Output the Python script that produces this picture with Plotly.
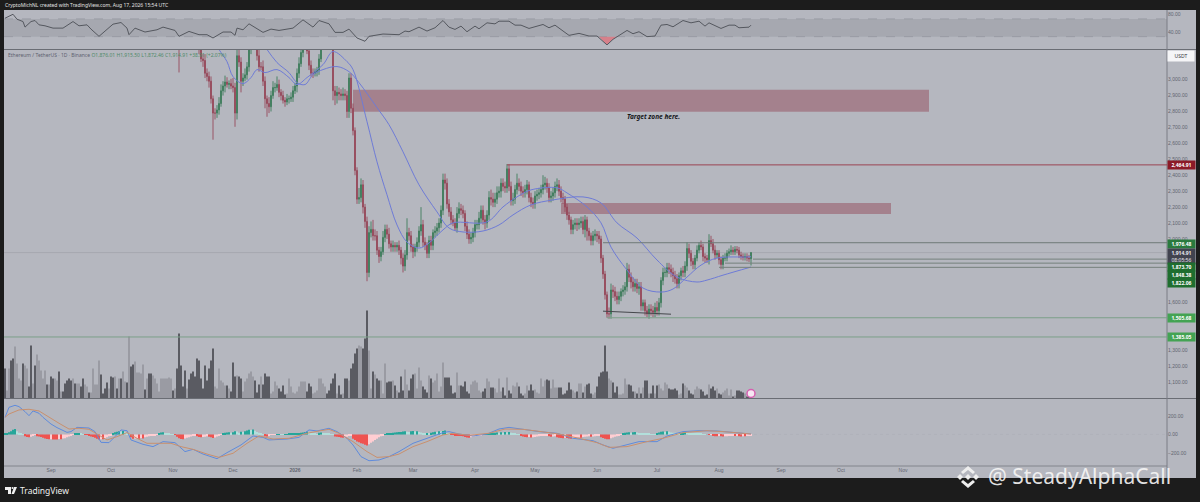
#!/usr/bin/env python
import pandas as pd
import plotly.graph_objects as go

W, H = 1200, 502

# daily closes from 2025-11-03 to 2026-08-17 (earlier candles sit above the visible range)
closes = [3600, 3550, 3500, 3480, 3470, 3500, 3450, 3420, 3380, 3350, 3230, 3200, 3130, 3120, 3040, 3020, 2990, 2880, 2790, 2790,
          2810, 2850, 2930, 2960, 2985, 2970, 2975, 2960, 2950, 2790,
          3150, 3110, 2990, 3010, 3030, 3080, 3200, 3250, 3260, 3240,
          3150, 3080, 3080, 2990, 2880, 2850, 2830, 2900, 2950, 2950,
          2970, 2920, 2900, 2870, 2860, 2880, 2880, 2890, 2930, 2960,
          3040, 3100, 3170, 3220, 3250, 3180, 3090, 3040, 3040, 3050,
          3060, 3130, 3230, 3350, 3400, 3360, 3350, 3250, 2930, 2900,
          2920, 2910, 2900, 2910, 2900, 2800, 3010, 2820, 2680, 2430,
          2250, 2260, 2340, 2200, 2110, 1790, 2040, 2060, 2020, 2020,
          1930, 1890, 1920, 2010, 2060, 2030, 1970, 1950, 1960, 1950,
          1960, 1930, 1880, 1830, 1900, 2040, 2020, 1950, 1920, 1950,
          1980, 2050, 2090, 1980, 1960, 1910, 1990, 1960, 2040, 2050,
          2070, 2100, 2180, 2370, 2350, 2220, 2170, 2120, 2100, 2070,
          2160, 2190, 2180, 2160, 2080, 2030, 2000, 2010, 2040, 2090,
          2090, 2130, 2180, 2120, 2100, 2150, 2260, 2250, 2230, 2250,
          2290, 2300, 2350, 2330, 2320, 2440, 2330, 2240, 2250, 2310,
          2350, 2330, 2300, 2290, 2310, 2340, 2260, 2230, 2220, 2270,
          2280, 2290, 2310, 2340, 2350, 2320, 2260, 2270, 2290, 2330,
          2340, 2300, 2260, 2250, 2200, 2150, 2120, 2060, 2090, 2100,
          2090, 2100, 2110, 2060, 2120, 2050, 2020, 1990, 2020, 2030,
          2020, 2000, 1880, 1780, 1650, 1530, 1530, 1680, 1670, 1640,
          1620, 1640, 1670, 1680, 1700, 1810, 1760, 1730, 1700, 1720,
          1690, 1700, 1580, 1600, 1550, 1530, 1560, 1550, 1540, 1570,
          1550, 1600, 1740, 1790, 1790, 1820, 1810, 1790, 1770, 1750,
          1720, 1770, 1800, 1790, 1830, 1940, 1910, 1860, 1840, 1880,
          1930, 1960, 1950, 1890, 1880, 1870, 1990, 1970, 1930, 1900,
          1910, 1870, 1840, 1880, 1880, 1910, 1920, 1930, 1920, 1935,
          1930, 1900, 1890, 1885, 1890, 1880, 1876.01, 1914.91]
upper_wick = [40, 30, 50, 20, 30, 40, 20, 30, 40, 30, 30, 40, 30, 30, 40, 30, 30, 30, 20, 30,
              30, 40, 40, 30, 40, 30, 20, 30, 50, 30,
              60, 40, 30, 30, 40, 30, 40, 50, 30, 40,
              30, 40, 30, 40, 30, 20, 40, 30, 40, 30,
              50, 30, 20, 30, 20, 30, 20, 30, 30, 20,
              30, 40, 30, 40, 30, 30, 20, 30, 30, 20,
              20, 30, 30, 40, 30, 30, 20, 40, 40, 30,
              40, 30, 30, 40, 30, 30, 30, 30, 30, 20,
              20, 60, 40, 30, 20, 30, 40, 50, 60, 40,
              30, 20, 30, 40, 30, 30, 40, 20, 30, 20,
              20, 30, 20, 30, 30, 90, 30, 30, 20, 20,
              30, 30, 110, 30, 30, 20, 30, 30, 20, 30,
              30, 30, 30, 40, 40, 30, 30, 30, 30, 30,
              40, 40, 30, 30, 20, 30, 30, 30, 30, 30,
              30, 40, 30, 30, 30, 30, 40, 50, 40, 40,
              40, 30, 30, 30, 30, 30, 30, 30, 40, 30,
              60, 30, 30, 30, 30, 30, 20, 30, 30, 30,
              30, 30, 30, 60, 40, 30, 30, 30, 30, 30,
              40, 30, 30, 30, 20, 20, 20, 20, 30, 30,
              30, 30, 30, 30, 30, 20, 20, 20, 30, 30,
              20, 30, 20, 20, 20, 20, 40, 40, 30, 30,
              30, 30, 20, 30, 30, 40, 30, 30, 30, 30,
              30, 30, 30, 20, 20, 30, 30, 30, 30, 30,
              40, 30, 20, 30, 30, 30, 30, 30, 30, 30,
              30, 20, 20, 30, 30, 40, 30, 20, 20, 20,
              30, 20, 30, 20, 20, 20, 40, 30, 30, 30,
              20, 20, 20, 20, 30, 20, 20, 30, 20, 20,
              20, 20, 20, 20, 20, 20, 20, 0.59]
lower_wick = [30, 505, 20, 30, 20, 30, 20, 40, 20, 40, 30, 40, 20, 40, 30, 30, 40, 30, 167, 40,
              30, 30, 20, 30, 40, 20, 30, 20, 30, 86,
              40, 30, 70, 30, 20, 30, 30, 40, 30, 30,
              30, 30, 20, 30, 60, 83, 40, 30, 20, 30,
              20, 30, 30, 20, 30, 20, 30, 20, 30, 20,
              40, 30, 20, 30, 30, 20, 30, 20, 30, 20,
              30, 30, 20, 30, 20, 30, 20, 30, 60, 60,
              50, 40, 30, 30, 30, 40, 40, 30, 30, 30,
              30, 30, 30, 40, 40, 55, 30, 30, 30, 30,
              30, 40, 30, 20, 30, 30, 30, 30, 30, 30,
              30, 30, 40, 40, 30, 30, 30, 30, 40, 30,
              30, 30, 30, 30, 30, 30, 30, 30, 30, 30,
              30, 30, 30, 30, 40, 30, 30, 30, 20, 20,
              30, 30, 30, 30, 30, 30, 30, 30, 30, 30,
              30, 30, 30, 30, 40, 30, 30, 40, 30, 30,
              30, 30, 40, 30, 30, 30, 30, 30, 30, 30,
              30, 30, 30, 30, 30, 30, 30, 30, 30, 30,
              30, 30, 30, 30, 30, 30, 30, 30, 30, 30,
              30, 30, 30, 30, 30, 30, 30, 30, 30, 30,
              40, 30, 30, 30, 50, 60, 30, 30, 30, 30,
              40, 30, 30, 30, 30, 24, 30, 30, 40, 30,
              30, 30, 30, 30, 30, 30, 30, 40, 30, 30,
              30, 40, 30, 30, 30, 20, 30, 30, 30, 30,
              30, 30, 30, 30, 30, 30, 30, 30, 40, 30,
              30, 30, 30, 30, 30, 30, 30, 30, 30, 30,
              20, 20, 20, 30, 30, 20, 30, 20, 20, 30,
              20, 30, 30, 30, 20, 20, 20, 20, 20, 20,
              20, 20, 20, 20, 20, 20, 20, 42.45]

# daily volume from 2025-08-09, arbitrary units
volume = [30, 8, 30, 38, 40, 52, 35, 20, 18, 35, 33, 30, 12, 53, 15, 33, 44, 38, 28, 20,
          28, 14, 14, 22, 20, 20, 18, 27, 7, 7, 15, 18, 20, 18, 20, 15, 15, 15, 12, 20,
          14, 12, 6, 6, 30, 14, 14, 38, 24, 5, 10, 16, 10, 22, 21, 22, 10, 20, 20, 27,
          17, 16, 62, 32, 34, 37, 26, 26, 25, 34, 9, 20, 25, 25, 23, 20, 15, 7, 20, 20,
          20, 20, 21, 20, 8, 10, 30, 65, 33, 12, 28, 10, 19, 25, 27, 22, 40, 38, 20, 10,
          33, 18, 30, 38, 50, 12, 10, 30, 18, 16, 13, 13, 10, 7, 36, 22, 23, 22, 20, 7,
          17, 20, 25, 27, 22, 18, 6, 14, 22, 14, 25, 22, 22, 5, 7, 17, 13, 10, 7, 13,
          4, 5, 20, 12, 6, 5, 7, 12, 17, 17, 17, 7, 15, 12, 5, 6, 8, 20, 20, 15,
          12, 5, 8, 15, 20, 25, 5, 13, 4, 5, 20, 20, 18, 30, 35, 45, 50, 53, 52, 50,
          60, 88, 48, 10, 27, 24, 20, 18, 18, 5, 35, 16, 17, 17, 18, 13, 8, 6,
          22, 8, 29, 14, 8, 20, 24, 25, 10, 31, 18, 12, 9, 6, 23, 20, 16, 18, 25, 7,
          12, 36, 21, 21, 21, 13, 5, 6, 26, 13, 13, 12, 17, 7, 5, 14, 17, 18, 16, 8,
          6, 7, 10, 20, 17, 11, 11, 10, 6, 20, 7, 11, 3, 21, 8, 5, 13, 12, 16, 12,
          5, 3, 5, 13, 8, 14, 8, 9, 6, 5, 20, 12, 18, 19, 18, 10, 19, 11, 11, 11,
          11, 4, 5, 8, 16, 9, 8, 6, 7, 15, 15, 6, 12, 14, 15, 5, 4, 6, 12, 22,
          26, 27, 53, 27, 20, 18, 16, 6, 12, 4, 4, 5, 20, 14, 14, 13, 7, 7, 5, 11,
          5, 11, 18, 18, 5, 5, 13, 5, 13, 14, 10, 8, 16, 14, 10, 9, 9, 10, 8, 4,
          5, 15, 13, 11, 8, 5, 4, 9, 12, 10, 9, 7, 3, 4, 14, 10, 12, 8, 10, 5,
          4, 6, 8, 10, 3, 9, 2, 3, 8, 8, 7, 6, 5, 2, 3, 2]
# 1 = dark (down day) for the bars before the candle list starts
early_vol_dark = [1, 0, 0, 1, 1, 0, 0, 0, 0, 1, 0, 0, 1, 1, 0, 1, 0, 0, 0, 0,
                  0, 1, 0, 1, 1, 0, 0, 1, 0, 1, 1, 1, 1, 1, 0, 1, 0, 0, 1, 1,
                  0, 0, 1, 0, 0, 0, 0, 0, 1, 1, 1, 1, 0, 1, 1, 0, 1, 0, 1, 0,
                  0, 1, 0, 1, 1, 0, 0, 0, 0, 0, 1, 0, 1, 1, 0, 0, 0, 0, 0, 0,
                  0, 0, 0, 0, 1, 0]

macd_hist = [10, 15, 25, 35, 50, 60, 35, 20, 8, 3, -20, -28, -30, -25, -6, -5,
             -18, -22, -28, -35, -42, -48, -52, -50, -55, -55,
             -55, -48, -50, -42, -40, -30, -22, -12, -5, 8, 12, 14, 10, 3, -4, -5,
             -15, -22, -28, -35, -45, -55, -50, -52, -42, -30, -18, -6,
             15, 25, 30, 35, 32, 38, 25, 12, 4,
             -30, -45, -42, -40, -45, -38, -42, -30, -25, -20, -15, -12, -10, -5,
             8, 22, 25, 15, 10, 7, 5, 3, -2,
             -25, -40, -48, -50, -42, -35, -30, -22, -14, -8,
             -20, -28, -30, -26, -24, -20, -25, -30, -38, -32, -22, -10, -3,
             15, 20, 22, 25, 18, 25, 35, 32, 18, 30, 28, 35, 42, 50, 48, 55,
             40, 28, 18, 8, 3, -18, -22, -8, -5, -3, -2, 2, 3, 2, 1, 2,
             4, 6, 8, 10, 12, 14, 15, 18, 22, 28, 32, 22, 15, 10, 6, 4,
             18, 22, 12, 10, 8, 6, 3, 2, -22, -25, -28, -32, -35, -30, -25, -15, -8,
             -45, -60, -75, -85, -95, -100, -110, -120,
             -105, -90, -75, -60, -45, -30, -18, -8, 5, 10, 12, 15, 18, 22, 25, 28,
             28, 32, 35, 30, 28, 35, 38, 32, 35, 28, 22, 15, 12, 15, 14,
             20, 25, 30, 28, 35, 32, 38, 42, 20, 8,
             -3, -5, -8, -10, -12, -15, -18, -28, -32, -35, -30, -22, -18, -15, -12, -8, -4,
             5, 8, 10, 14, 18, 20, 22, 18, 25, 20, 28, 22, 26, 18, 10, 6, 3, 1,
             -15, -22, -28, -30, -28, -32, -30, -28, -22, -18, -15, -12, -10, -8,
             -20, -25, -22, -18, -30, -35, -38, -40, -36, -38, -42, -45, -40,
             -35, -32, -30, -34, -28, -25, -22, -20, -25, -22, -18, -15, -12,
             -30, -38, -45, -50, -52, -40, -32, -25, -18, -10, -5,
             10, 18, 22, 25, 20, 24, 28, 22, 15, 14, 12, 10, 8, 6, 5, 3, 2,
             15, 22, 30, 32, 28, 34, 30, 22, 20, 18, 15, 12, 14, 18, 30, 25,
             18, 15, 14, 12, 10, 8, 6, 5, 2, 0, -2, -1,
             -15, -18, -20, -15, -18, -22, -20, -18, -15, -12, -10, -14, -12,
             -20, -22, -18, -20, -16, -14, -10]

macd_dates = ["2025-08-09", "2025-08-11", "2025-08-14", "2025-08-16", "2025-08-19", "2025-08-21", "2025-08-23", "2025-08-26",
              "2025-08-28", "2025-09-01", "2025-09-04", "2025-09-09", "2025-09-11", "2025-09-14", "2025-09-20", "2025-09-23",
              "2025-09-26", "2025-09-30", "2025-10-03", "2025-10-06", "2025-10-09", "2025-10-11", "2025-10-17", "2025-10-22",
              "2025-10-27", "2025-11-02", "2025-11-07", "2025-11-11", "2025-11-16", "2025-11-23", "2025-11-28", "2025-12-05",
              "2025-12-11", "2025-12-16", "2025-12-19", "2025-12-28", "2026-01-03", "2026-01-08", "2026-01-12", "2026-01-18",
              "2026-01-22", "2026-01-27", "2026-01-30", "2026-02-03", "2026-02-07", "2026-02-12", "2026-02-17", "2026-02-22",
              "2026-03-01", "2026-03-08", "2026-03-16", "2026-03-19", "2026-03-24", "2026-03-31", "2026-04-07", "2026-04-13",
              "2026-04-18", "2026-04-25", "2026-05-03", "2026-05-12", "2026-05-20", "2026-05-30", "2026-06-04", "2026-06-09",
              "2026-06-16", "2026-06-22", "2026-07-01", "2026-07-06", "2026-07-14", "2026-07-22", "2026-07-31", "2026-08-08",
              "2026-08-17"]
macd_line = [185, 293, 315, 301, 247, 203, 254, 229, 185, 113, 74, 23, 31, 77, 70, 31,
             -85, -88, -23, 49, 41, -59, -106, -131, -77, -88, -185, -160, -211, -261, -196, -113,
             -16, -31, -59, -49, -31, 49, 38, 67, 31, -41, -113, -239, -283, -275, -239, -185,
             -95, -41, 20, 31, 5, -16, 5, 59, 77, 56, 31, 13, -41, -67, -113, -149,
             -113, -77, -77, -16, 31, 41, 38, 20, 5]
signal_dates = ["2025-08-09", "2025-08-11", "2025-08-16", "2025-08-21", "2025-08-26", "2025-08-31", "2025-09-05", "2025-09-10",
                "2025-09-15", "2025-09-20", "2025-09-25", "2025-09-29", "2025-10-04", "2025-10-09", "2025-10-14", "2025-10-19",
                "2025-10-26", "2025-10-31", "2025-11-05", "2025-11-11", "2025-11-18", "2025-11-24", "2025-12-01", "2025-12-08",
                "2025-12-14", "2025-12-21", "2025-12-29", "2026-01-07", "2026-01-13", "2026-01-18", "2026-01-23", "2026-01-30",
                "2026-02-06", "2026-02-11", "2026-02-17", "2026-02-22", "2026-03-01", "2026-03-08", "2026-03-16", "2026-03-21",
                "2026-03-29", "2026-04-08", "2026-04-16", "2026-04-25", "2026-05-03", "2026-05-13", "2026-05-23", "2026-06-01",
                "2026-06-07", "2026-06-16", "2026-06-26", "2026-07-04", "2026-07-14", "2026-07-26", "2026-08-03", "2026-08-17"]
signal_line = [185, 221, 265, 272, 254, 185, 121, 59, 67, 56, -5, -59, -23, 20, -41, -95,
               -95, -95, -131, -160, -211, -247, -203, -95, -16, -49, -41, 13, 38, 56, 13, -77,
               -185, -247, -239, -211, -131, -77, -5, 13, -9, 13, 59, 56, 34, 5, -41, -88,
               -139, -131, -77, -41, 20, 41, 31, 5]

rsi_dates = ["2025-08-09", "2025-08-11", "2025-08-13", "2025-08-15", "2025-08-18", "2025-08-19", "2025-08-22", "2025-08-24",
             "2025-08-26", "2025-08-29", "2025-09-02", "2025-09-04", "2025-09-07", "2025-09-12", "2025-09-15", "2025-09-19",
             "2025-09-21", "2025-09-25", "2025-09-28", "2025-10-02", "2025-10-06", "2025-10-09", "2025-10-10", "2025-10-13",
             "2025-10-18", "2025-10-24", "2025-10-27", "2025-11-02", "2025-11-04", "2025-11-09", "2025-11-14", "2025-11-18",
             "2025-11-21", "2025-11-26", "2025-11-30", "2025-12-02", "2025-12-03", "2025-12-06", "2025-12-09", "2025-12-16",
             "2025-12-20", "2025-12-24", "2025-12-31", "2026-01-05", "2026-01-10", "2026-01-13", "2026-01-18", "2026-01-21",
             "2026-01-25", "2026-01-28", "2026-02-01", "2026-02-05", "2026-02-07", "2026-02-14", "2026-02-22", "2026-02-25",
             "2026-02-27", "2026-03-04", "2026-03-08", "2026-03-12", "2026-03-16", "2026-03-19", "2026-03-22", "2026-03-25",
             "2026-03-28", "2026-04-01", "2026-04-03", "2026-04-07", "2026-04-11", "2026-04-13", "2026-04-18", "2026-04-21",
             "2026-04-24", "2026-04-28", "2026-05-05", "2026-05-08", "2026-05-11", "2026-05-15", "2026-05-18", "2026-05-23",
             "2026-05-28", "2026-06-01", "2026-06-06", "2026-06-09", "2026-06-16", "2026-06-19", "2026-06-22", "2026-06-26",
             "2026-06-30", "2026-07-03", "2026-07-06", "2026-07-09", "2026-07-14", "2026-07-18", "2026-07-22", "2026-07-25",
             "2026-07-27", "2026-08-02", "2026-08-06", "2026-08-09", "2026-08-11", "2026-08-16", "2026-08-17"]
rsi_values = [71.5, 75.2, 80.4, 69.2, 64, 51.5, 64, 66.3, 56.6, 54.4, 49.2, 49.2, 49.2, 64, 54.4, 56.6,
              47, 30.7, 41.8, 58.1, 61.8, 49.2, 34.4, 49.2, 40.4, 45.5, 51.5, 44, 30.7, 41.8, 34.4, 34.4,
              27, 40.4, 40.4, 33, 49.2, 45.5, 58.9, 39.6, 47, 44, 49.2, 67.8, 51.5, 66.3, 58.9, 39.6,
              39.6, 47, 27, 19.6, 30.7, 35.9, 34.4, 42.6, 41.1, 51.4, 42.6, 50, 66.3, 51.4, 46.3, 53.7,
              41.1, 53.7, 47.7, 61.1, 58.8, 64.8, 64.8, 55.9, 55.9, 48.5, 57.4, 50, 55.9, 42.6, 32.9, 37.4,
              31.4, 31.4, 11.4, 24, 44, 36.6, 41.1, 30, 31.4, 55.9, 57.4, 52.2, 66.3, 61.1, 64.8, 53.7,
              61.1, 48.5, 55.9, 55.9, 50, 51.4, 55.9]
oversold_dates = ["2026-06-02", "2026-06-06", "2026-06-09", "2026-06-11"]
oversold_values = [30, 11.4, 24, 30]
oversold_base = [30, 30, 30, 30]

fast_ma_dates = ["2025-11-18", "2025-11-24", "2025-11-28", "2025-12-01", "2025-12-06", "2025-12-10", "2025-12-13", "2025-12-17",
                 "2025-12-23", "2025-12-29", "2026-01-02", "2026-01-07", "2026-01-15", "2026-01-20", "2026-01-27", "2026-01-30",
                 "2026-02-06", "2026-02-11", "2026-02-16", "2026-02-21", "2026-02-26", "2026-03-04", "2026-03-09", "2026-03-16",
                 "2026-03-21", "2026-04-07", "2026-04-15", "2026-04-22", "2026-04-29", "2026-05-12", "2026-05-17", "2026-05-27",
                 "2026-06-03", "2026-06-08", "2026-06-16", "2026-06-24", "2026-07-03", "2026-07-09", "2026-07-16", "2026-07-23",
                 "2026-07-31", "2026-08-15", "2026-08-17"]
fast_ma = [3320, 3189, 3113, 3019, 2975, 3013, 3063, 3044, 3063, 3013, 2969, 3013, 3094, 3176, 3113, 3063,
           2736, 2484, 2277, 2088, 1981, 1943, 1975, 2057, 2101, 2107, 2201, 2264, 2308, 2321, 2289, 2201,
           2101, 1949, 1805, 1692, 1667, 1686, 1761, 1836, 1880, 1887, 1889]
slow_ma_dates = ["2025-12-12", "2025-12-18", "2025-12-23", "2025-12-29", "2026-01-02", "2026-01-06", "2026-01-10", "2026-01-15",
                 "2026-01-22", "2026-01-28", "2026-02-02", "2026-02-11", "2026-02-17", "2026-02-24", "2026-03-04", "2026-03-13",
                 "2026-03-19", "2026-03-26", "2026-04-05", "2026-04-13", "2026-04-20", "2026-04-29", "2026-05-10", "2026-05-25",
                 "2026-06-03", "2026-06-11", "2026-06-21", "2026-07-01", "2026-07-11", "2026-07-21", "2026-07-26", "2026-08-03",
                 "2026-08-17"]
slow_ma = [3290, 3189, 3107, 3044, 2981, 2969, 3031, 3063, 3082, 3050, 2981, 2824, 2717, 2547, 2340, 2170,
           2069, 2044, 2050, 2088, 2151, 2214, 2245, 2264, 2226, 2101, 2006, 1868, 1761, 1730, 1742, 1773,
           1824]

price_ticks = [1100, 1200, 1300, 1600, 2000, 2100, 2200, 2300, 2400, 2500, 2600, 2700, 2800, 2900, 3000]
month_ticks = ["2025-09-01", "2025-10-01", "2025-11-01", "2025-12-01", "2026-01-01", "2026-02-01", "2026-03-01", "2026-04-01",
               "2026-05-01", "2026-06-01", "2026-07-01", "2026-08-01", "2026-09-01", "2026-10-01", "2026-11-01"]
month_labels = ["Sep", "Oct", "Nov", "Dec", "<b>2026</b>", "Feb", "Mar", "Apr", "May", "Jun", "Jul", "Aug", "Sep", "Oct", "Nov"]

# start date, end date, lower and upper price of the two target boxes
zones = [("2026-01-30", "2026-11-14", 2799, 2937), ("2026-05-14", "2026-10-26", 2157, 2226)]
# start date and price of the horizontal levels
levels = [("2026-04-17", 2464.91, "#9a4453"), ("2026-06-04", 1976.48, "#6f7a78"), ("2026-08-18", 1873.70, "#75807c"),
          ("2026-08-04", 1848.38, "#75807c"), ("2026-08-01", 1822.06, "#75807c"), ("2026-06-06", 1505.68, "#7c9f88"),
          ("2025-08-08", 1385.05, "#7c9f88")]
last_price = 1914.91
x_range = ["2025-08-08 12:00", "2027-03-13"]

candle_dates = pd.date_range(end="2026-08-17", periods=len(closes))
vol_dates = pd.date_range("2025-08-09", periods=len(volume))
opens = [3620] + closes[:-1]
highs = [max(o, c) + u for o, c, u in zip(opens, closes, upper_wick)]
lows = [min(o, c) - d for o, c, d in zip(opens, closes, lower_wick)]

is_dark = early_vol_dark + [1 if c < o else 0 for o, c in zip(opens, closes)]
vol_colors = ["#5a5b62" if d else "#9a9ba3" for d in is_dark]

hist_colors = []
for i, v in enumerate(macd_hist):
    prev = macd_hist[i - 1] if i else 0
    if v >= 0:
        hist_colors.append("#26a69a" if v >= prev else "#b2dfdb")
    else:
        hist_colors.append("#ef5350" if v <= prev else "#ffcdd2")


def px_x(x):
    return x / W


def px_y(y):
    return 1 - y / H


def path(points):
    return "M" + " L".join(f"{px_x(a):.5f},{px_y(b):.5f}" for a, b in points) + " Z"


fig = go.Figure()
fig.add_trace(go.Bar(x=vol_dates, y=volume, marker=dict(color=vol_colors, line_width=0), width=86400000 * 0.55, yaxis="y2"))
fig.add_trace(go.Candlestick(x=candle_dates, open=opens, high=highs, low=lows, close=closes, yaxis="y",
                             whiskerwidth=0,
                             increasing=dict(line=dict(color="#3f7d5c", width=0.9), fillcolor="#3f7d5c"),
                             decreasing=dict(line=dict(color="#96495b", width=0.9), fillcolor="#96495b")))
fig.add_trace(go.Scatter(x=slow_ma_dates, y=slow_ma, mode="lines", line=dict(color="#6e7bd6", width=1, shape="spline"), yaxis="y"))
fig.add_trace(go.Scatter(x=fast_ma_dates, y=fast_ma, mode="lines", line=dict(color="#6e7bd6", width=1, shape="spline"), yaxis="y"))
fig.add_trace(go.Scatter(x=["2026-08-17"], y=[5], mode="markers", yaxis="y2",
                         marker=dict(size=8, color="#f6e6f2", line=dict(color="#d65fb0", width=1.5))))
fig.add_trace(go.Scatter(x=oversold_dates, y=oversold_base, mode="lines", line=dict(width=0), yaxis="y3"))
fig.add_trace(go.Scatter(x=oversold_dates, y=oversold_values, mode="lines", line=dict(width=0), fill="tonexty",
                         fillcolor="rgba(225,110,120,0.75)", yaxis="y3"))
fig.add_trace(go.Scatter(x=rsi_dates, y=rsi_values, mode="lines", line=dict(color="#55585f", width=1), yaxis="y3"))
fig.add_trace(go.Bar(x=vol_dates, y=macd_hist, marker=dict(color=hist_colors, line_width=0), width=86400000 * 0.95, yaxis="y4"))
fig.add_trace(go.Scatter(x=macd_dates, y=macd_line, mode="lines", line=dict(color="#5f8bdc", width=1), yaxis="y4"))
fig.add_trace(go.Scatter(x=signal_dates, y=signal_line, mode="lines", line=dict(color="#c9906e", width=1), yaxis="y4"))

shapes = [dict(type="rect", xref="paper", yref="paper", x0=px_x(4), x1=px_x(1196), y0=px_y(478), y1=px_y(10),
               fillcolor="#b5b7bf", line_width=0, layer="below"),
          dict(type="rect", xref="x", yref="y3", x0=x_range[0], x1=x_range[1], y0=30, y1=70,
               fillcolor="#a6a8b0", line=dict(width=0), layer="below"),
          dict(type="line", xref="x", yref="y3", x0=x_range[0], x1=x_range[1], y0=70, y1=70,
               line=dict(color="#92949c", width=0.7, dash="dash"), layer="below"),
          dict(type="line", xref="x", yref="y3", x0=x_range[0], x1=x_range[1], y0=30, y1=30,
               line=dict(color="#92949c", width=0.7, dash="dash"), layer="below"),
          dict(type="line", xref="x", yref="y", x0=x_range[0], x1=x_range[1], y0=last_price, y1=last_price,
               line=dict(color="#a3a6ad", width=0.8), layer="below"),
          dict(type="line", xref="x", yref="y4", x0=x_range[0], x1=x_range[1], y0=0, y1=0,
               line=dict(color="#aeb0b8", width=0.7, dash="dot"), layer="below"),
          dict(type="line", xref="x", yref="y", x0="2026-06-04", x1="2026-07-08", y0=1547, y1=1528,
               line=dict(color="#45474c", width=1)),
          # pane separators and price axis border
          dict(type="line", xref="paper", yref="paper", x0=px_x(4), x1=px_x(1196), y0=px_y(49.5), y1=px_y(49.5),
               line=dict(color="#6a6d74", width=1)),
          dict(type="line", xref="paper", yref="paper", x0=px_x(4), x1=px_x(1196), y0=px_y(398.5), y1=px_y(398.5),
               line=dict(color="#6a6d74", width=1)),
          dict(type="line", xref="paper", yref="paper", x0=px_x(4), x1=px_x(1167), y0=px_y(466), y1=px_y(466),
               line=dict(color="#82858c", width=1)),
          dict(type="line", xref="paper", yref="paper", x0=px_x(1167), x1=px_x(1167), y0=px_y(10), y1=px_y(478),
               line=dict(color="#7a7d85", width=1))]
for start, end, low, high in zones:
    shapes.append(dict(type="rect", xref="x", yref="y", x0=start, x1=end, y0=low, y1=high,
                       fillcolor="rgba(150,80,95,0.52)", line_width=0, layer="below"))
for start, price, color in levels:
    shapes.append(dict(type="line", xref="x", yref="y", x0=start, x1=x_range[1], y0=price, y1=price,
                       line=dict(color=color, width=1)))
# binance style mark of the watermark
cx, cy = 968, 477
for pts in ([(cx - 3, cy), (cx, cy - 3), (cx + 3, cy), (cx, cy + 3)],
            [(cx - 11, cy), (cx - 8, cy - 3), (cx - 5, cy), (cx - 8, cy + 3)],
            [(cx + 11, cy), (cx + 8, cy - 3), (cx + 5, cy), (cx + 8, cy + 3)],
            [(cx - 7, cy - 5), (cx, cy - 11), (cx + 7, cy - 5), (cx + 5, cy - 3), (cx, cy - 7), (cx - 5, cy - 3)],
            [(cx - 7, cy + 5), (cx, cy + 11), (cx + 7, cy + 5), (cx + 5, cy + 3), (cx, cy + 7), (cx - 5, cy + 3)]):
    shapes.append(dict(type="path", xref="paper", yref="paper", path=path(pts), fillcolor="#eeeeee", line_width=0))
# tradingview mark at the bottom left
for pts in ([(5, 487), (11, 487), (11, 494), (8, 494), (8, 490), (5, 490)],
            [(14, 487), (17, 487), (14, 494), (11.5, 494)]):
    shapes.append(dict(type="path", xref="paper", yref="paper", path=path(pts), fillcolor="#f0f0f0", line_width=0))
shapes.append(dict(type="circle", xref="paper", yref="paper", x0=px_x(11.5), x1=px_x(13.5), y0=px_y(489), y1=px_y(487),
                   fillcolor="#f0f0f0", line_width=0))


def note(text, x, y, size, color, anchor="left", **kw):
    return dict(text=text, xref="paper", yref="paper", x=px_x(x), y=px_y(y), xanchor=anchor, yanchor="middle",
                showarrow=False, font=dict(size=size, color=color), borderpad=0, **kw)


def price_box(text, y, color, height=8):
    return note(f"<b>{text}</b>", 1181, y, 5, "#ffffff", anchor="center", bgcolor=color, width=27, height=height, align="center")


annotations = [
    note("CryptoMichNL created with TradingView.com, Aug 17, 2026 15:54 UTC", 4, 5, 5, "#e4e4e4"),
    note('Ethereum / TetherUS · 1D · Binance <span style="color:#4f8a68">O1,876.01 H1,915.50 L1,872.46 C1,914.91 +38.91 (+2.07%)</span>',
         7, 55, 5, "#5e6270"),
    dict(text="<b><i>Target zone here.</i></b>", xref="x", yref="y", x="2026-06-29", y=2767, showarrow=False,
         font=dict(size=6.5, color="#15161a"), xanchor="center", yanchor="middle"),
    note("USDT", 1181, 56, 5, "#33353b", anchor="center", bgcolor="#f5f5f7", width=26, height=10, align="center"),
    price_box("2,464.91", 165.5, "#8c1a27"),
    price_box("1,976.48", 243.5, "#2a7a3e"),
    note("<b>1,914.91</b><br>08:05:56", 1181, 256, 5, "#e8e8ee", anchor="center", bgcolor="#41434f", width=27, height=15, align="center"),
    price_box("1,873.70", 267, "#1f6e2f"),
    price_box("1,848.38", 275, "#1f6e2f"),
    price_box("1,822.06", 283, "#1f6e2f"),
    price_box("1,505.68", 318, "#43a353"),
    price_box("1,385.05", 337, "#43a353"),
    note("TradingView", 19, 490.5, 8.5, "#f0f0f0"),
    note("@ SteadyAlphaCall", 987, 476, 21, "rgba(245,245,245,0.92)"),
]

axis_font = dict(size=5, color="#62656f", family="Liberation Sans")
fig.update_layout(
    width=W, height=H, autosize=False, showlegend=False,
    margin=dict(t=0, l=0, r=0, b=0),
    paper_bgcolor="#1c1c1c", plot_bgcolor="rgba(0,0,0,0)",
    font=dict(family="Noto Sans"),
    barmode="overlay",
    shapes=shapes, annotations=annotations,
    xaxis=dict(domain=[px_x(4), px_x(1167)], range=x_range, type="date", anchor="y4", rangeslider=dict(visible=False),
               showgrid=False, zeroline=False, showline=False, ticks="", tickmode="array", tickvals=month_ticks, ticktext=month_labels,
               tickfont=axis_font),
    yaxis=dict(domain=[px_y(398.5), px_y(49.5)], range=[999, 3189], side="right", anchor="x", showgrid=False, zeroline=False,
               tickmode="array", tickvals=price_ticks, tickformat=",.2f", tickfont=axis_font, ticks="", showline=False),
    yaxis2=dict(domain=[px_y(398.5), px_y(49.5)], range=[0, 349], overlaying="y", visible=False),
    yaxis3=dict(domain=[px_y(49), px_y(10)], range=[2.2, 90], side="right", anchor="x", showgrid=False, zeroline=False,
                tickmode="array", tickvals=[40, 80], tickformat=".2f", tickfont=axis_font, ticks=""),
    yaxis4=dict(domain=[px_y(466), px_y(399)], range=[-340, 383], side="right", anchor="x", showgrid=False, zeroline=False,
                tickmode="array", tickvals=[-200, 0, 200], tickformat=".2f", tickfont=axis_font, ticks=""),
)

# the browser's default 8px body margin would shift the whole picture
fig.write_html("out.html", config={"displayModeBar": False},
               post_script="document.body.style.margin='0';document.body.style.background='#1c1c1c';")
